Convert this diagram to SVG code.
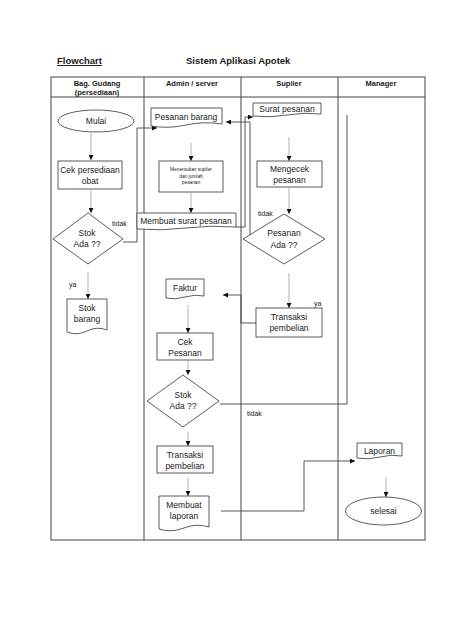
<svg xmlns="http://www.w3.org/2000/svg" width="474" height="632" viewBox="0 0 474 632">
<style>
text{font-family:"Liberation Sans",Arial,sans-serif;fill:#1a1a1a}
.t{font-size:9.5px;font-weight:bold}
.h{font-size:7.5px;font-weight:bold;text-anchor:middle}
.n{font-size:8.5px;text-anchor:middle}
.s{font-size:4.8px;text-anchor:middle}
.l{font-size:7px}
.shape{fill:#fff;stroke:#333;stroke-width:0.8}
.grid{fill:none;stroke:#444;stroke-width:1}
.c{fill:none;stroke:#a0a0a0;stroke-width:0.8}
.d{fill:none;stroke:#444;stroke-width:0.9}
</style>
<defs>
<marker id="a" viewBox="0 0 6 6" refX="6" refY="3" markerWidth="5" markerHeight="5" orient="auto" markerUnits="userSpaceOnUse">
<path d="M0,0 L6,3 L0,6 Z" fill="#111"/>
</marker>
</defs>
<rect width="474" height="632" fill="#fff"/>
<text class="t" x="57" y="64" text-decoration="underline">Flowchart </text>
<text class="t" x="186" y="64">Sistem Aplikasi Apotek</text>
<g id="table">
<rect class="grid" x="51" y="77" width="374" height="463"/>
<line class="grid" x1="51" y1="97" x2="425" y2="97"/>
<line class="grid" x1="144" y1="77" x2="144" y2="540"/>
<line class="grid" x1="241" y1="77" x2="241" y2="540"/>
<line class="grid" x1="338" y1="77" x2="338" y2="540"/>
<text class="h" x="97" y="86">Bag. Gudang</text>
<text class="h" x="97" y="95">(persediaan)</text>
<text class="h" x="192" y="86">Admin / server</text>
<text class="h" x="289" y="86">Suplier</text>
<text class="h" x="381" y="86">Manager</text>
</g>
<g id="connectors">
<path class="c" d="M91,133 V160" marker-end="url(#a)"/>
<path class="c" d="M91,190 V213" marker-end="url(#a)"/>
<path class="c" d="M88,272 V299" marker-end="url(#a)"/>
<path class="d" d="M123,242 H137 V128 H157" marker-end="url(#a)"/>
<path class="c" d="M191,143 V161" marker-end="url(#a)"/>
<path class="c" d="M191,193 V213" marker-end="url(#a)"/>
<path class="d" d="M236,227 H245 V117 H253" marker-end="url(#a)"/>
<path class="d" d="M250,243 V122 H226" marker-end="url(#a)"/>
<path class="c" d="M289,137 V161" marker-end="url(#a)"/>
<path class="c" d="M289,188 V214" marker-end="url(#a)"/>
<path class="c" d="M289,273 V308" marker-end="url(#a)"/>
<path class="d" d="M256,323 H241 V295 H223" marker-end="url(#a)"/>
<path class="c" d="M188,305 V333" marker-end="url(#a)"/>
<path class="c" d="M188,361 V375" marker-end="url(#a)"/>
<path class="c" d="M188,432 V446" marker-end="url(#a)"/>
<path class="c" d="M188,478 V496" marker-end="url(#a)"/>
<path class="d" d="M220,404 H347 V115"/>
<path class="d" d="M221,511 H304 V461 H355" marker-end="url(#a)"/>
<path class="c" d="M386,477 V497" marker-end="url(#a)"/>
<text class="l" x="112" y="226">tidak</text>
<text class="l" x="69" y="287">ya</text>
<text class="l" x="258" y="216">tidak</text>
<text class="l" x="314" y="306">ya</text>
<text class="l" x="247" y="416">tidak</text>
</g>
<g id="mulai">
<ellipse class="shape" cx="96" cy="121" rx="38" ry="11"/>
<text class="n" x="96" y="124">Mulai</text>
</g>
<g id="cek-persediaan">
<rect class="shape" x="58" y="161" width="64" height="28"/>
<text class="n" x="90" y="173">Cek persediaan</text>
<text class="n" x="90" y="184">obat</text>
</g>
<g id="stok-ada-1">
<polygon class="shape" points="88,213 123,239 88,264 53,239"/>
<text class="n" x="87" y="236">Stok</text>
<text class="n" x="87" y="247">Ada ??</text>
</g>
<g id="stok-barang">
<path class="shape" d="M67,299 H107 V330 Q97,326 87,331 Q77,336 67,332 Z"/>
<text class="n" x="87" y="311">Stok</text>
<text class="n" x="87" y="322">barang</text>
</g>
<g id="pesanan-barang">
<path class="shape" d="M151,108 H222 V124 Q204,121 186,125 Q168,129 151,126 Z"/>
<text class="n" x="186" y="120">Pesanan barang</text>
</g>
<g id="menentukan">
<rect class="shape" x="159" y="161" width="64" height="31"/>
<text class="s" x="191" y="171">Menentukan suplier</text>
<text class="s" x="191" y="177.5">dan jumlah</text>
<text class="s" x="191" y="184">pesanan</text>
</g>
<g id="membuat-surat">
<path class="shape" d="M137,213 H236 V227 Q211,225 186,228 Q161,231 137,229 Z"/>
<text class="n" x="186" y="224">Membuat surat pesanan</text>
</g>
<g id="faktur">
<path class="shape" d="M166,279 H204 V296 Q195,294 185,297 Q175,300 166,298 Z"/>
<text class="n" x="185" y="291">Faktur</text>
</g>
<g id="cek-pesanan">
<rect class="shape" x="157" y="333" width="56" height="27"/>
<text class="n" x="185" y="345">Cek</text>
<text class="n" x="185" y="356">Pesanan</text>
</g>
<g id="stok-ada-2">
<polygon class="shape" points="183,375 219,401 183,427 147,401"/>
<text class="n" x="183" y="398">Stok</text>
<text class="n" x="183" y="409">Ada ??</text>
</g>
<g id="transaksi-2">
<rect class="shape" x="157" y="446" width="56" height="27"/>
<text class="n" x="185" y="458">Transaksi</text>
<text class="n" x="185" y="469">pembelian</text>
</g>
<g id="membuat-laporan">
<path class="shape" d="M159,496 H209 V527 Q196,523 184,528 Q171,533 159,529 Z"/>
<text class="n" x="184" y="508">Membuat</text>
<text class="n" x="184" y="519">laporan</text>
</g>
<g id="surat-pesanan">
<path class="shape" d="M253,103 H321 V114 Q304,112 287,115 Q270,118 253,116 Z"/>
<text class="n" x="287" y="112">Surat pesanan</text>
</g>
<g id="mengecek">
<rect class="shape" x="257" y="161" width="65" height="26"/>
<text class="n" x="289.5" y="172">Mengecek</text>
<text class="n" x="289.5" y="183">pesanan</text>
</g>
<g id="pesanan-ada">
<polygon class="shape" points="284,214 325,239 284,264 243,239"/>
<text class="n" x="284" y="236">Pesanan</text>
<text class="n" x="284" y="248">Ada ??</text>
</g>
<g id="transaksi-3">
<rect class="shape" x="256" y="308" width="66" height="29"/>
<text class="n" x="289" y="320">Transaksi</text>
<text class="n" x="289" y="331">pembelian</text>
</g>
<g id="laporan">
<path class="shape" d="M357,443 H402 V456 Q391,454 380,457 Q368,460 357,458 Z"/>
<text class="n" x="379.5" y="454">Laporan</text>
</g>
<g id="selesai">
<ellipse class="shape" cx="383.5" cy="511" rx="38" ry="14"/>
<text class="n" x="383.5" y="514">selesai</text>
</g>
</svg>
